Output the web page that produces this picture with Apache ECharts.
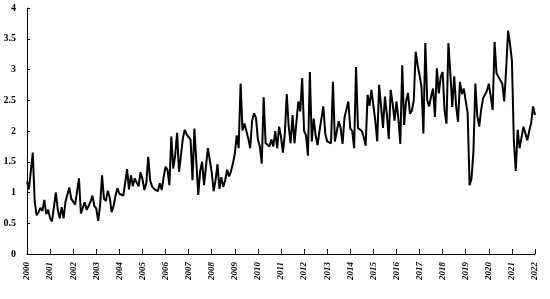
<!DOCTYPE html>
<html><head><meta charset="utf-8">
<script src="https://cdn.jsdelivr.net/npm/echarts@6/dist/echarts.min.js"></script>
<style>html,body{margin:0;padding:0;background:#fff}#c{width:550px;height:299px}</style>
</head><body><div id="c"></div>
<script>
const startYear = 2000;
const endYear = 2022;
const yTicks = [0, 0.5, 1, 1.5, 2, 2.5, 3, 3.5, 4];
const v2000 = [1.18,1.05,1.08,1.65,0.85,0.63,0.68,0.75,0.70,0.88,0.65,0.72];
const v2001 = [0.58,0.53,0.55,1.00,0.72,0.58,0.76,0.58,0.85,0.83,1.08,0.90];
const v2002 = [0.88,0.80,0.78,1.23,0.66,0.65,0.84,0.72,0.78,0.85,0.95,0.78];
const v2003 = [0.74,0.54,0.80,1.28,0.90,0.86,1.03,0.92,0.68,0.78,0.95,1.07];
const v2004 = [0.98,0.96,0.95,1.15,1.38,1.05,1.28,1.10,1.23,1.16,1.10,1.33];
const v2005 = [1.22,1.04,1.15,1.58,1.20,1.10,1.06,1.03,1.02,1.15,1.04,1.25];
const v2006 = [1.42,1.37,1.12,1.91,1.39,1.60,1.97,1.34,1.60,1.88,2.02,1.94];
const v2007 = [1.92,1.86,1.20,2.04,1.50,0.96,1.35,1.50,1.12,1.42,1.72,1.70];
const v2008 = [1.33,1.02,1.20,1.46,1.06,1.25,1.09,1.20,1.37,1.26,1.34,1.47];
const v2009 = [1.63,1.93,1.72,2.77,2.01,2.12,2.12,1.88,1.72,2.17,2.29,2.21];
const v2010 = [1.86,1.75,1.47,2.55,1.80,1.78,1.75,1.86,1.75,2.00,1.72,2.07];
const v2011 = [1.91,1.65,1.96,2.60,2.07,1.80,2.26,1.80,1.83,2.48,2.32,2.86];
const v2012 = [2.00,1.93,1.60,2.96,1.83,2.20,1.93,1.77,2.00,2.20,2.40,1.96];
const v2013 = [1.83,1.80,1.80,2.80,1.83,1.83,2.16,2.05,1.79,2.22,2.35,2.48];
const v2014 = [2.04,2.00,1.72,3.04,2.05,2.04,2.00,1.90,1.76,2.59,2.41,2.67];
const v2015 = [2.64,2.17,1.83,2.75,2.40,2.05,2.56,2.28,1.87,2.67,2.45,2.17];
const v2016 = [2.48,2.20,1.79,3.07,2.10,2.48,2.62,2.28,2.33,2.50,3.29,3.07];
const v2017 = [2.91,2.72,1.96,3.43,2.50,2.40,2.56,2.69,2.23,3.02,2.61,2.88];
const v2018 = [2.96,2.33,2.12,3.43,2.94,2.39,2.89,2.41,2.15,2.80,2.60,2.69];
const v2019 = [2.68,2.29,1.12,1.23,1.66,2.77,2.25,2.07,2.34,2.53,2.54,2.65];
const v2020 = [2.77,2.56,2.34,3.45,2.94,2.88,2.87,2.77,2.48,3.00,3.63,3.42];
const v2021 = [3.15,1.85,1.35,2.02,1.72,1.74,2.07,1.96,1.85,2.00,2.13,2.40];
const v2022 = [2.26];

const values = [].concat(v2000,v2001,v2002,v2003,v2004,v2005,v2006,v2007,v2008,v2009,v2010,
  v2011,v2012,v2013,v2014,v2015,v2016,v2017,v2018,v2019,v2020,v2021,v2022);
const categories = values.map((_, i) => String(startYear + Math.floor(i / 12)) + '-' + String(i % 12 + 1).padStart(2, '0'));

const chart = echarts.init(document.getElementById('c'), null, {renderer: 'canvas'});
chart.setOption({
  animation: false,
  backgroundColor: '#fff',
  grid: {left: 27, right: 15, top: 8, bottom: 45, containLabel: false},
  xAxis: {
    type: 'category',
    data: categories,
    boundaryGap: false,
    axisLine: {lineStyle: {color: '#000', width: 1}},
    axisTick: {inside: true, length: 5, lineStyle: {color: '#000'}, interval: (i) => i % 12 === 0},
    axisLabel: {
      interval: (i) => i % 12 === 0,
      formatter: (v) => v.slice(0, 4),
      rotate: 90,
      margin: 8,
      color: '#000',
      fontFamily: 'Liberation Serif',
      fontWeight: 'bold',
      fontStyle: 'italic',
      fontSize: 9
    },
    splitLine: {show: false}
  },
  yAxis: {
    type: 'value',
    min: yTicks[0],
    max: yTicks[yTicks.length - 1],
    interval: 0.5,
    axisLine: {show: true, lineStyle: {color: '#000', width: 1}},
    axisTick: {show: true, inside: true, length: 3, lineStyle: {color: '#000'}},
    axisLabel: {
      color: '#000',
      margin: 11,
      fontFamily: 'Liberation Serif',
      fontWeight: 'bold',
      fontSize: 10
    },
    splitLine: {show: false}
  },
  series: [{
    type: 'line',
    data: values,
    showSymbol: false,
    symbol: 'none',
    lineStyle: {color: '#000', width: 2},
    itemStyle: {color: '#000'}
  }]
});
</script>
</body></html>
